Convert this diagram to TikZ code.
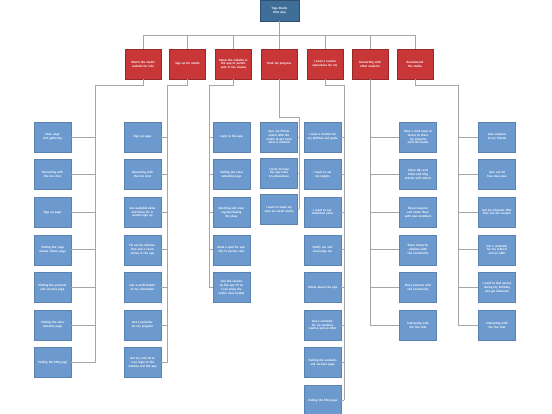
\documentclass[tikz,border=0pt]{standalone}
\usepackage{fontspec}
\setmainfont{Carlito}
\definecolor{rootblue}{RGB}{63,110,152}
\definecolor{epicred}{RGB}{200,54,56}
\definecolor{storyblue}{RGB}{108,153,206}
\definecolor{wiregray}{RGB}{166,166,166}

\begin{document}
\begin{tikzpicture}[x=1pt,y=-1pt]
          \tikzstyle{every node}+=[inner sep=0pt, text=white, align=center, font=\fontsize{3.2}{3.8}\selectfont\bfseries]
          \tikzstyle{rootbox}=[fill=rootblue, draw=rootblue!75!black, line width=0.4pt, minimum width=39pt, minimum height=21pt, text width=26pt]
          \tikzstyle{epicbox}=[fill=epicred, draw=epicred!75!black, line width=0.4pt, minimum width=36pt, minimum height=30pt, text width=29pt]
          \tikzstyle{storybox}=[fill=storyblue, draw=storyblue!85!black, line width=0.3pt, minimum width=37pt, minimum height=30pt, text width=30pt]
          \tikzstyle{wire}=[draw=wiregray, line width=0.6pt]
          \useasboundingbox (0,0) rectangle (552,414);
          \node [rootbox] (root) at (279.5,10.5) {Yoga Studio Web App};
          \node [epicbox] (e1) at (143,64) {Watch the studio website for info};
          \node [epicbox] (e2) at (187.5,64) {Sign up for studio};
          \node [epicbox] (e3) at (233.5,64) {Setup the website or the app to participate in live classes};
          \node [epicbox] (e4) at (279,64) {Track my progress};
          \node [epicbox] (e5) at (325,64) {I want a custom experience for me};
          \node [epicbox] (e6) at (370,64) {Connecting with other students};
          \node [epicbox] (e7) at (415,64) {Recommend the studio};
          \node [storybox] (s11) at (52.5,137) {Main page info gathering};
          \node [storybox] (s12) at (52.5,174.6) {Interacting with the live chat};
          \node [storybox] (s13) at (52.5,212.2) {Sign up page};
          \node [storybox] (s14) at (52.5,249.8) {Visiting the yoga classes videos page};
          \node [storybox] (s15) at (52.5,287.4) {Visiting the products and services page};
          \node [storybox] (s16) at (52.5,325) {Visiting the class schedule page};
          \node [storybox] (s17) at (52.5,362.6) {Visiting the FAQ page};
          \node [storybox] (s21) at (142.5,137) {Sign up page};
          \node [storybox] (s22) at (142.5,174.6) {Interacting with the live chat};
          \node [storybox] (s23) at (142.5,212.2) {See available dates and times for in person sign up};
          \node [storybox] (s24) at (142.5,249.8) {Fill up the information and a event online in the app};
          \node [storybox] (s25) at (142.5,287.4) {Get a confirmation of my submission};
          \node [storybox] (s26) at (142.5,325) {Get a reminder for my program};
          \node [storybox] (s27) at (142.5,362.6) {Get my mail ID so I can login to the website and the app};
          \node [storybox] (s31) at (231.5,137) {Login to the app};
          \node [storybox] (s32) at (231.5,174.6) {Visiting the class schedule page};
          \node [storybox] (s33) at (231.5,212.2) {Selecting and viewing/purchasing the class};
          \node [storybox] (s34) at (231.5,249.8) {Book a spot for specific in person class};
          \node [storybox] (s35) at (231.5,287.4) {Join the session by the app TV so I can enjoy the online class hosted};
          \node [storybox] (s41) at (279,137) {Sync my fitness watch with the studio to get track what is entered};
          \node [storybox] (s42) at (279,173) {I want to have the app track my attendance};
          \node [storybox] (s43) at (279,209) {I want to share my stats on social media};
          \node [storybox] (s51) at (322.5,137) {I want a routine for my abilities and goals};
          \node [storybox] (s52) at (322.5,174.6) {I want to set my targets};
          \node [storybox] (s53) at (322.5,212.2) {I want to see individual plans};
          \node [storybox] (s54) at (322.5,249.8) {Notify me and encourage me};
          \node [storybox] (s55) at (322.5,287.4) {Videos about the app};
          \node [storybox] (s56) at (322.5,325) {Get a reminder for my workout routine and an offer};
          \node [storybox] (s57) at (322.5,362.6) {Visiting the products and services page};
          \node [storybox] (s58) at (322.5,400.2) {Visiting the FAQ page};
          \node [storybox] (s61) at (418,137) {Have a chat room or forum to share my progress with the studio};
          \node [storybox] (s62) at (418,174.6) {Share tips and tricks and blog articles with others};
          \node [storybox] (s63) at (418,212.2) {Share coupons and invite them with new members};
          \node [storybox] (s64) at (418,249.8) {Share favourite playlists with the community};
          \node [storybox] (s65) at (418,287.4) {Share pictures with the community};
          \node [storybox] (s66) at (418,325) {Interacting with the live chat};
          \node [storybox] (s71) at (497,137) {Give coupons to my friends};
          \node [storybox] (s72) at (497,174.6) {Give out 10 free class pass};
          \node [storybox] (s73) at (497,212.2) {Get my discount after they use the coupon};
          \node [storybox] (s74) at (497,249.8) {Get a reminder for my referral and an offer};
          \node [storybox] (s75) at (497,287.4) {I want to find special during my birthday and get discounts};
          \node [storybox] (s76) at (497,325) {Interacting with the live chat};
          \coordinate (bar) at (279.5,35);
          \coordinate (k1) at (95,85);
          \coordinate (k2) at (167,85);
          \coordinate (k3) at (209,85);
          \coordinate (k4) at (299,117);
          \coordinate (k5) at (344,85);
          \coordinate (k7) at (458,85);
          \draw [wire] (root.south) -- (bar);
          \draw [wire] (e1.north |- bar) -- (e7.north |- bar);
          \foreach \i in {1,...,7}
            \draw [wire] (e\i.north) -- (e\i.north |- bar);
          \draw [wire] (e1.south) -- (e1.south |- k1) -- (k1) -- (k1 |- s17.east);
          \foreach \i in {1,...,7}
            \draw [wire] (s1\i.east) -- (s1\i.east -| k1);
          \draw [wire] (e2.south) -- (e2.south |- k2) -- (k2) -- (k2 |- s27.east);
          \foreach \i in {1,...,7}
            \draw [wire] (s2\i.east) -- (s2\i.east -| k2);
          \draw [wire] (e3.south) -- (e3.south |- k3) -- (k3) -- (k3 |- s35.west);
          \foreach \i in {1,...,5}
            \draw [wire] (s3\i.west) -- (s3\i.west -| k3);
          \draw [wire] (e4.south) -- (e4.south |- k4) -- (k4) -- (k4 |- s43.east);
          \foreach \i in {1,...,3}
            \draw [wire] (s4\i.east) -- (s4\i.east -| k4);
          \draw [wire] (e5.south) -- (e5.south |- k5) -- (k5) -- (k5 |- s58.east);
          \foreach \i in {1,...,8}
            \draw [wire] (s5\i.east) -- (s5\i.east -| k5);
          \draw [wire] (e6.south) -- (e6.south |- s66.west);
          \foreach \i in {1,...,6}
            \draw [wire] (s6\i.west) -- (s6\i.west -| e6.south);
          \draw [wire] (e7.south) -- (e7.south |- k7) -- (k7) -- (k7 |- s76.west);
          \foreach \i in {1,...,6}
            \draw [wire] (s7\i.west) -- (s7\i.west -| k7);
        \end{tikzpicture}
\end{document}
